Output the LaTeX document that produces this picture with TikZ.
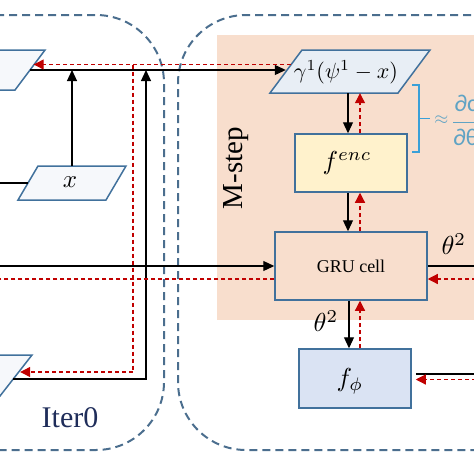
\documentclass[tikz,border=0pt]{standalone}
\usepackage{fontspec}
\setmainfont{Liberation Serif}
\newfontfamily\carl{Carlito}
\usetikzlibrary{arrows.meta,calc}
\definecolor{frameblue}{HTML}{4B6E8E}
\definecolor{boxblue}{HTML}{41719C}
\definecolor{peach}{HTML}{F8DECD}
\definecolor{parfill}{HTML}{E8EEF5}
\definecolor{xfill}{HTML}{F6F8FB}
\definecolor{encfill}{HTML}{FFF2CC}
\definecolor{phifill}{HTML}{DAE3F3}
\definecolor{redline}{HTML}{C00000}
\definecolor{bracecol}{HTML}{3AA0D8}
\definecolor{fraccol}{HTML}{5FA3C4}
\definecolor{navy}{HTML}{1F2D5A}
\begin{document}
\begin{tikzpicture}[x=1pt,y=-1pt,
  frame/.style={draw=frameblue,line width=2pt,dash pattern=on 8pt off 5pt,rounded corners=68pt},
  parbox/.style={draw=boxblue,line width=1.5pt,line join=miter},
  boxnode/.style={draw=boxblue,line width=1.5pt,inner sep=0pt},
  parlabel/.style={inner sep=0pt},
  blk/.style={draw=black,line width=1.2pt},
  blkarrow/.style={blk,-{Triangle[length=11pt,width=10pt]}},
  redd/.style={draw=redline,line width=1.2pt,dash pattern=on 4pt off 3pt},
  redarrow/.style={redd,-{Triangle[length=10pt,width=10pt]}},
  lbl/.style={inner sep=0pt}]
\useasboundingbox (0,0) rectangle (474,474);
\clip (0,0) rectangle (474,474);
% background M-step region
\fill[peach] (217,35) rectangle (490,320);
% dashed frames
\draw[frame] (-30,15) -- (164,15) -- (164,450) -- (-30,450);
\draw[frame] (510,15) -- (178,15) -- (178,450) -- (510,450);
% parallelograms
\draw[parbox,fill=parfill] (302,50) -- (430,50) -- (398,93) -- (270,93) -- cycle;
\node[parlabel,minimum width=128pt,minimum height=43pt] (gam) at (348,71.5) {};
\node[lbl,scale=2.2] (gamtxt) at (346,72) {$\gamma^{1}(\psi^{1}-x)$};
\draw[parbox,fill=xfill] (38,166) -- (126,166) -- (106,200) -- (18,200) -- cycle;
\node[parlabel,minimum width=88pt,minimum height=34pt] (xpar) at (72,183) {};
\node[lbl,scale=2.5] (xtxt) at (70,182) {$x$};
\draw[parbox,fill=xfill] (-68,50) -- (45,50) -- (15,90) -- (-98,90) -- cycle;
\node[parlabel,minimum width=113pt,minimum height=40pt] (lpar1) at (-27,70) {};
\draw[parbox,fill=xfill] (-80,355) -- (32,355) -- (0,396) -- (-112,396) -- cycle;
\node[parlabel,minimum width=112pt,minimum height=41pt] (lpar2) at (-40,375.5) {};
% boxes
\node[boxnode,fill=encfill,minimum width=112pt,minimum height=58pt] (fenc) at (351,163) {};
\node[lbl,scale=2.6] (fenctxt) at (347,163) {$f^{enc}$};
\node[boxnode,fill=peach,minimum width=152pt,minimum height=68pt] (gru) at (351,266) {\fontsize{18}{22}\selectfont GRU cell};
\node[boxnode,fill=phifill,minimum width=112pt,minimum height=59pt] (fphi) at (355,378.5) {};
\node[lbl,scale=2.6] (fphitxt) at (350,381) {$f_{\phi}$};
% labels
\node[lbl,rotate=90] (mstep) at (236,168) {\fontsize{29}{32}\selectfont M-step};
\node[lbl,text=navy] (iter) at (70,418) {\fontsize{30}{34}\selectfont Iter0};
\node[lbl,scale=2.6] (th1) at (326,321) {$\theta^{2}$};
\node[lbl,scale=2.6,anchor=west] (th2) at (441,244) {$\theta^{2}$};
% brace and gradient
\coordinate (bt) at (412,85);
\coordinate (bb) at (412,152);
\coordinate (bm) at (419,118.5);
\draw[bracecol,line width=1.3pt] (bt) -- ++(7,0) |- (bb);
\draw[bracecol,line width=1.3pt] (bm) -- ++(11,0) coordinate (bend);
\node[lbl,text=fraccol,anchor=west,scale=1.8] (approx) at ($(bend)+(4,2)$) {$\approx$};
\node[lbl,text=fraccol,anchor=west] (frac) at ($(approx.east)+(3,0)$) {\fontsize{24}{28}\selectfont$\displaystyle\frac{\hbox{\carl ∂c}}{\hbox{\carl ∂θ}}$};
% coordinates for free ends
\coordinate (bj) at (146,70);
\coordinate (rv) at (133,64.5);
\coordinate (gl) at (-10,266);
\coordinate (glr) at (-10,279);
\coordinate (gr) at (490,266);
\coordinate (grr) at (490,279);
\coordinate (pr) at (490,374);
\coordinate (prr) at (490,379.5);
\coordinate (xin) at (-10,183);
% top connections
\draw[blkarrow] (lpar1.east) -- ($(lpar1.east -| gam.west)+(2,0)$);
\draw[redarrow] ($(gam.west)+(7,-7)$) coordinate (rs) -- ($(rs -| lpar1.east)+(4,0)$);
\draw[blkarrow] (xpar.north) -- (xpar.north |- lpar1.east);
\draw[blk] (xin) -- (xpar.west);
\draw[blkarrow] ($(lpar2.east)+(-3,3.5)$) -| (bj);
\draw[redarrow] (rv) |- ($(lpar2.east)+(4,-3.5)$);
% vertical chain
\draw[blkarrow] (gam.south) -- (gam.south |- fenc.north);
\draw[redarrow] ($(fenc.north)+(9,0)$) -- ($(gam.south)+(12,0)$);
\draw[blkarrow] ($(fenc.south)+(-3,0)$) -- ($(gru.north)+(-3,0)$);
\draw[redarrow] ($(gru.north)+(9,0)$) -- ($(fenc.south)+(9,0)$);
\draw[blkarrow] ($(gru.south)+(-2,0)$) -- ($(gru.south |- fphi.north)+(-2,0)$);
\draw[redarrow] ($(fphi.north)+(5,0)$) -- ($(gru.south)+(9,0)$);
% GRU sides
\draw[blkarrow] (gl) -- (gru.west);
\draw[redd] ($(gru.west)+(0,13)$) -- (glr);
\draw[blk] (gru.east) -- (gr);
\draw[redarrow] (grr) -- ($(gru.east)+(0,13)$);
% f_phi side
\draw[blk] ($(fphi.east)+(4,-4.5)$) -- (pr);
\draw[redarrow] (prr) -- ($(fphi.east)+(4,1)$);
\end{tikzpicture}
\end{document}
